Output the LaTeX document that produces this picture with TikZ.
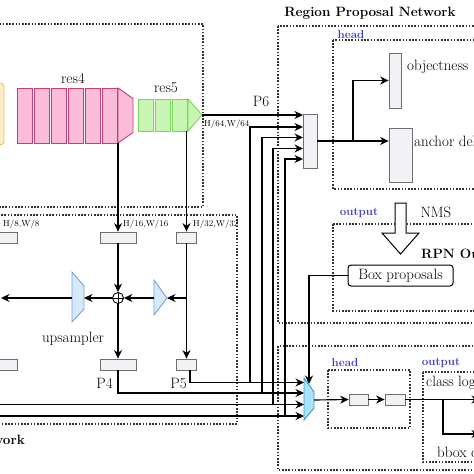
\documentclass[tikz,border=0pt]{standalone}
\usepackage{fontspec}
\usetikzlibrary{arrows.meta,positioning,calc,backgrounds}

\definecolor{pinkfill}{RGB}{250,188,216}
\definecolor{pinkline}{RGB}{196,64,112}
\definecolor{greenfill}{RGB}{200,245,180}
\definecolor{greenline}{RGB}{120,215,90}
\definecolor{yelfill}{RGB}{255,238,200}
\definecolor{yelline}{RGB}{240,190,90}
\definecolor{upfill}{RGB}{214,234,250}
\definecolor{upline}{RGB}{120,160,220}
\definecolor{poolfill}{RGB}{170,228,248}
\definecolor{poolline}{RGB}{60,150,205}
\definecolor{featfill}{RGB}{240,242,245}
\definecolor{featline}{RGB}{110,110,110}
\definecolor{partblue}{RGB}{60,60,205}

\tikzset{
  frame/.style={draw=black!80, dash pattern=on 1.6pt off 1.6pt, line width=1.5pt},
  feat/.style={draw=featline, fill=featfill, line width=0.8pt, inner sep=0},
  resblk/.style={line width=0.9pt, inner sep=0},
  upsty/.style={draw=upline, fill=upfill, line width=0.9pt},
  conn/.style={-{Stealth[length=8.5pt,width=8pt]}, line width=1.15pt},
  lbl/.style={font=\fontsize{15}{17}\selectfont, inner sep=1pt},
  dimlbl/.style={font=\fontsize{8.7}{10}\selectfont, inner sep=0},
  partlbl/.style={font=\bfseries\fontsize{11.5}{13}\selectfont, text=partblue, inner sep=0},
  title/.style={font=\bfseries\fontsize{13.5}{15}\selectfont, inner sep=0},
}

\begin{document}
\begin{tikzpicture}[x=1pt,y=-1pt]
\useasboundingbox (0,0) rectangle (474,474);
\clip (0,0) rectangle (474,474);

% backbone
\node[resblk, draw=yelline, fill=yelfill, rounded corners=4pt, minimum width=30, minimum height=62] (res3) at (-11,114) {};
\foreach \i in {0,...,5}
  \node[resblk, draw=pinkline, fill=pinkfill, minimum width=15, minimum height=55] (res4b\i) at (24.5+17*\i,115.5) {};
\draw[resblk, draw=pinkline, fill=pinkfill] (118,88) -- (133,98.5) -- (133,132.5) -- (118,143) coordinate (r4out) -- cycle;
\foreach \i in {0,1,2}
  \node[resblk, draw=greenline, fill=greenfill, minimum width=15, minimum height=32] (res5b\i) at (145.5+17*\i,115) {};
\draw[resblk, draw=greenline, fill=greenfill] (188,99) -- (202,115) coordinate (r5out) -- (188,131) -- cycle;
\coordinate (r5down) at (186.5,131);
\node[lbl] (res4lbl) at (73,79) {res4};
\node[lbl] (res5lbl) at (166,88) {res5};
\node[dimlbl, anchor=west] (d64) at (204,124) {H/64,W/64};

% FPN
\node[feat, minimum width=36, minimum height=11] (lat3) at (-1,237.5) {};
\node[feat, minimum width=36, minimum height=11] (lat4) at (118,237.5) {};
\node[feat, minimum width=20, minimum height=11] (lat5) at (186.5,237.5) {};
\node[feat, minimum width=36, minimum height=11] (out3) at (-1,364.5) {};
\node[feat, minimum width=36, minimum height=11] (P4) at (118,364.5) {};
\node[feat, minimum width=20, minimum height=11] (P5) at (186.5,364.5) {};
\node[dimlbl, anchor=west] (d8) at (3,224) {H/8,W/8};
\node[dimlbl, anchor=west] (d16) at (123,224) {H/16,W/16};
\node[dimlbl, anchor=west] (d32) at (193,224) {H/32,W/32};
\node[draw, circle, line width=0.9pt, minimum size=11, inner sep=0, fill=white,
  path picture={\draw (path picture bounding box.north) -- (path picture bounding box.south)
    (path picture bounding box.west) -- (path picture bounding box.east);}] (sum4) at (118,298) {};
\draw[upsty] (154,280) -- (167,298) coordinate (up5tip) -- (154,315) -- cycle;
\coordinate (up5in) at (154,298);
\draw[upsty] (72,272) -- (84,286) -- (84,309) -- (72,322) -- cycle;
\coordinate (up4r) at (84,298);
\coordinate (up4l) at (72,298);
\coordinate (fpnout) at (1,298);
\coordinate (up5split) at (186.5,298);
\node[lbl] (uplbl) at (73,339) {upsampler};
\node[lbl] (P4lbl) at (104.5,383) {P4};
\node[lbl] (P5lbl) at (178.5,383) {P5};
\node[title, anchor=east] (fpntitle) at (25,441) {Feature Pyramid Network};

\draw[conn] (r4out) -- (lat4.north);
\draw[conn] (r5down) -- (lat5.north);
\draw[conn] (lat4.south) -- (sum4.north);
\draw[conn] (sum4.south) -- (P4.north);
\draw[conn] (lat5.south) -- (P5.north);
\draw[conn] (up5split) -- (up5tip);
\draw[conn] (up5in) -- (sum4.east);
\draw[conn] (sum4.west) -- (up4r);
\draw[conn] (up4l) -- (fpnout);

% RPN
\node[title] (rpntitle) at (370,13) {Region Proposal Network};
\node[partlbl] (rpnhead) at (351,35) {head};
\node[feat, minimum width=14, minimum height=54] (rpnconv) at (310,141) {};
\node[feat, minimum width=12, minimum height=55] (objness) at (395,80.5) {};
\node[feat, minimum width=23, minimum height=54] (anchorbox) at (400.5,155) {};
\node[lbl, anchor=west] (objlbl) at (406,67) {objectness};
\node[lbl, anchor=west] (anclbl) at (413,141) {anchor deltas};
\node[lbl] (P6lbl) at (261,101) {P6};
\coordinate (rpnsplit) at (353,141);
\draw[conn] (rpnconv.east) -- (rpnconv.east -| anchorbox.west);
\draw[conn] (rpnsplit) |- (objness.west);

\draw[line width=1pt, fill=white] (395,203) -- (406,203) -- (406,233) -- (419,233)
  -- (400.5,254) -- (382,233) -- (395,233) -- cycle;
\node[lbl] (nmslbl) at (436,212) {NMS};
\node[partlbl] (rpnout) at (359,213) {output};
\node[title, anchor=west] (rpnouttitle) at (421,255) {RPN Outputs};
\node[draw, rounded corners=3pt, line width=1pt, lbl, minimum width=105, minimum height=21] (boxprop) at (400.5,275.5) {Box proposals};

% ROI heads
\draw[line width=0.9pt, draw=poolline, fill=poolfill] (304,378) -- (314,392) -- (314,408) -- (304,420) -- cycle;
\coordinate (poolout) at (314,400);
\coordinate (pooltop) at (309,384);
\node[partlbl] (roihead) at (345,363) {head};
\node[partlbl] (roiout) at (441,363) {output};
\node[feat, minimum width=19, minimum height=11] (fc1) at (358.5,399.5) {};
\node[feat, minimum width=20, minimum height=11] (fc2) at (395,399.5) {};
\node[lbl, anchor=west] (clslbl) at (425,383) {class logits};
\node[lbl, anchor=west] (bboxlbl) at (436,452) {bbox deltas};
\coordinate (roisplit) at (443,399.5);
\coordinate (clsout) at (480,399.5);
\coordinate (bboxout) at (480,434);
\draw[conn] (boxprop.west) -| (pooltop);
\draw[conn] (poolout) -- (fc1.west);
\draw[conn] (fc1.east) -- (fc2.west);
\draw[conn] (fc2.east) -- (clsout);
\draw[conn] (roisplit) |- (bboxout);

% levels into RPN and pooler
\coordinate (p2src) at (-20,416);
\coordinate (rpn6in) at (303,115);
\foreach \n/\y/\x/\r in {5/382.5/250/127, 4/393/262/137.5, 3/404.5/273/148.5, 2/416/285/159} {
  \coordinate (pool\n in) at (304,\y);
  \coordinate (j\n) at (\x,\y);
  \coordinate (rpn\n in) at (303,\r);
}
\draw[conn] (r5out) -- (rpn6in);
\draw[conn] ([xshift=3.5]P5.south) |- (pool5in);
\draw[conn] (P4.south) |- (pool4in);
\draw[conn] (out3.south) |- (pool3in);
\draw[conn] (p2src) -- (pool2in);
\foreach \n in {5,4,3,2}
  \draw[conn] (j\n) |- (rpn\n in);

\begin{pgfonlayer}{background}
  \clip (0,0) rectangle (474,474);
  \draw[frame] (-10,24) rectangle (203,207);
  \draw[frame] (-10,215) rectangle (237,424);
  \draw[frame] (278,26) rectangle (490,323);
  \draw[frame] (333,40) rectangle (490,189);
  \draw[frame] (333,224) rectangle (490,311);
  \draw[frame] (278,346) rectangle (490,470);
  \draw[frame] (328,370) rectangle (410,428);
  \draw[frame] (423,372) rectangle (490,462);
\end{pgfonlayer}

\end{tikzpicture}
\end{document}
